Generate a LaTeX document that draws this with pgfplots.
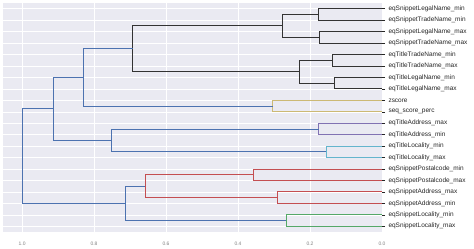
\documentclass[border=0pt]{standalone}
\usepackage{fontspec}
\setmainfont{Liberation Sans}
\usepackage{pgfplots}
\pgfplotsset{compat=1.18}
\definecolor{bgc}{HTML}{EAEAF2}
\definecolor{cblue}{HTML}{4C72B0}
\definecolor{ctan}{HTML}{CCB974}
\definecolor{cpurple}{HTML}{8172B3}
\definecolor{clblue}{HTML}{64B5CD}
\definecolor{cred}{HTML}{C44E52}
\definecolor{cgreen}{HTML}{55A868}
\definecolor{cblack}{HTML}{333333}
\definecolor{txt}{HTML}{262626}
\begin{document}
\begin{tikzpicture}
\begin{axis}[
  scale only axis, width=379bp, height=229bp,
  x dir=reverse, xmin=0, xmax=1.053,
  y dir=reverse, ymin=0, ymax=200,
  axis background/.style={fill=bgc},
  axis line style={draw=none},
  grid=major,
  x grid style={white, line width=0.8bp},
  y grid style={white, line width=0.5bp},
  xtick={0,0.2,0.4,0.6,0.8,1.0},
  xticklabels={0.0,0.2,0.4,0.6,0.8,1.0},
  xticklabel style={font=\fontsize{5}{6}\selectfont, text=gray},
  xtick style={draw=none},
  xticklabel shift=3bp,
  ytick={5,15,...,195},
  yticklabels={eqSnippetLegalName\_min,eqSnippetTradeName\_min,eqSnippetLegalName\_max,eqSnippetTradeName\_max,eqTitleTradeName\_min,eqTitleTradeName\_max,eqTitleLegalName\_min,eqTitleLegalName\_max,zscore,seq\_score\_perc,eqTitleAddress\_max,eqTitleAddress\_min,eqTitleLocality\_min,eqTitleLocality\_max,eqSnippetPostalcode\_min,eqSnippetPostalcode\_max,eqSnippetAddress\_max,eqSnippetAddress\_min,eqSnippetLocality\_min,eqSnippetLocality\_max},
  ytick pos=right, yticklabel pos=right,
  yticklabel style={font=\fontsize{6.5}{7}\selectfont, text=txt},
  ytick style={draw=txt, line width=0.5bp},
  tick align=outside, major tick length=3bp,
  every axis plot/.append style={line width=0.9bp, mark=none},
  /pgf/number format/assume math mode=true,
  clip=false,
]
% black cluster
\addplot[cblack] coordinates {(0,5)(0.176,5)(0.176,15)(0,15)};
\addplot[cblack] coordinates {(0,25)(0.173,25)(0.173,35)(0,35)};
\addplot[cblack] coordinates {(0.176,10)(0.276,10)(0.276,30)(0.173,30)};
\addplot[cblack] coordinates {(0,45)(0.137,45)(0.137,55)(0,55)};
\addplot[cblack] coordinates {(0,65)(0.133,65)(0.133,75)(0,75)};
\addplot[cblack] coordinates {(0.137,50)(0.23,50)(0.23,70)(0.133,70)};
\addplot[cblack] coordinates {(0.276,20)(0.693,20)(0.693,60)(0.23,60)};
% tan
\addplot[ctan] coordinates {(0,85)(0.303,85)(0.303,95)(0,95)};
\addplot[cblue] coordinates {(0.693,40)(0.83,40)(0.83,90)(0.303,90)};
% title address / locality
\addplot[cpurple] coordinates {(0,105)(0.176,105)(0.176,115)(0,115)};
\addplot[clblue] coordinates {(0,125)(0.155,125)(0.155,135)(0,135)};
\addplot[cblue] coordinates {(0.176,110)(0.753,110)(0.753,130)(0.155,130)};
\addplot[cblue] coordinates {(0.83,65)(0.913,65)(0.913,120)(0.753,120)};
% red
\addplot[cred] coordinates {(0,145)(0.356,145)(0.356,155)(0,155)};
\addplot[cred] coordinates {(0,165)(0.29,165)(0.29,175)(0,175)};
\addplot[cred] coordinates {(0.356,150)(0.658,150)(0.658,170)(0.29,170)};
% green
\addplot[cgreen] coordinates {(0,185)(0.266,185)(0.266,195)(0,195)};
\addplot[cblue] coordinates {(0.658,160)(0.714,160)(0.714,190)(0.266,190)};
% root
\addplot[cblue] coordinates {(0.913,92.5)(1.0,92.5)(1.0,175)(0.714,175)};
\end{axis}
\pgfresetboundingbox
\path ([xshift=-3bp,yshift=-17bp]current axis.south west) rectangle ++(474bp,249bp);
\end{tikzpicture}
\end{document}
